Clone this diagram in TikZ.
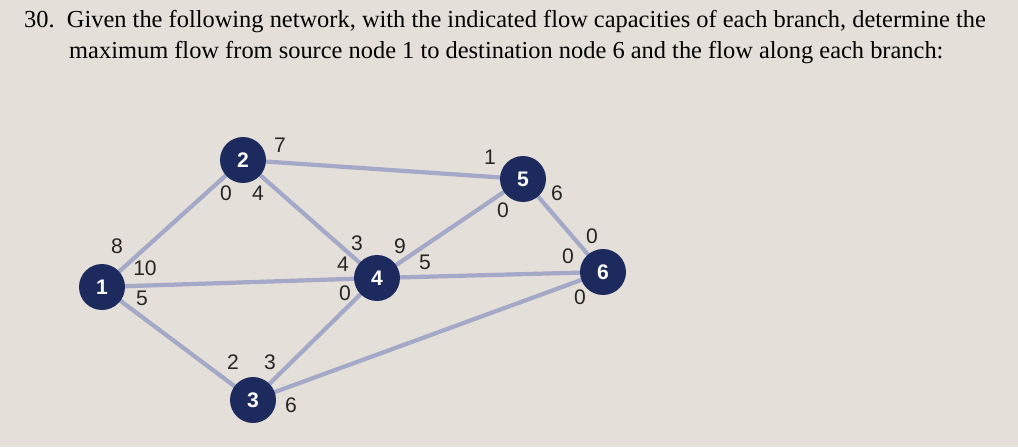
\documentclass[tikz,border=0pt]{standalone}
\usepackage{fontspec}
\setmainfont{Liberation Serif}
\newfontfamily\lab{Liberation Sans}
\begin{document}
\begin{tikzpicture}[x=0.02cm,y=-0.02cm,
  nd/.style={circle,fill=navy,text=white,minimum size=0.92cm,inner sep=0pt,font=\lab\bfseries\fontsize{12}{12}\selectfont},
  ed/.style={draw=edgec,line width=2.4pt},
  lb/.style={font=\lab\fontsize{12}{12}\selectfont,text=black!85}]
\definecolor{navy}{HTML}{1D2A5E}
\definecolor{edgec}{HTML}{A3A9C6}
\definecolor{paper}{HTML}{E4DFD9}
\fill[paper] (0,0) rectangle (1018,447);
\node[anchor=base west,font=\fontsize{13.9}{16}\selectfont] (t1) at (18,27) {30.\ \ Given the following network, with the indicated flow capacities of each branch, determine the};
\node[anchor=base west,font=\fontsize{13.9}{16}\selectfont] (t2) at (63,58) {maximum flow from source node 1 to destination node 6 and the flow along each branch:};
\coordinate (p1) at (102,287); \coordinate (p2) at (243,160); \coordinate (p3) at (253,400);
\coordinate (p4) at (377,278); \coordinate (p5) at (523,179); \coordinate (p6) at (603,272);
\draw[ed] (p1)--(p2); \draw[ed] (p1)--(p4); \draw[ed] (p1)--(p3);
\draw[ed] (p2)--(p5); \draw[ed] (p2)--(p4); \draw[ed] (p3)--(p4);
\draw[ed] (p3)--(p6); \draw[ed] (p4)--(p6); \draw[ed] (p5)--(p6); \draw[ed] (p4)--(p5);
\node[nd] (n1) at (p1) {1}; \node[nd] (n2) at (p2) {2}; \node[nd] (n3) at (p3) {3};
\node[nd] (n4) at (p4) {4}; \node[nd] (n5) at (p5) {5}; \node[nd] (n6) at (p6) {6};
\node[lb] (a) at (117,246) {8};
\node[lb] (b) at (145,268) {10};
\node[lb] (c) at (142,298) {5};
\node[lb] (d) at (226,193) {0};
\node[lb] (e) at (258,193) {4};
\node[lb] (f) at (280,145) {7};
\node[lb] (g) at (490,157) {1};
\node[lb] (h) at (503,210) {0};
\node[lb] (i) at (557,193) {6};
\node[lb] (j) at (357,243) {3};
\node[lb] (k) at (400,246) {9};
\node[lb] (l) at (343,264) {4};
\node[lb] (m) at (345,293) {0};
\node[lb] (o) at (425,262) {5};
\node[lb] (q) at (592,236) {0};
\node[lb] (r) at (568,256) {0};
\node[lb] (s) at (580,297) {0};
\node[lb] (u) at (233,362) {2};
\node[lb] (v) at (270,362) {3};
\node[lb] (w) at (291,405) {6};
\end{tikzpicture}
\end{document}
